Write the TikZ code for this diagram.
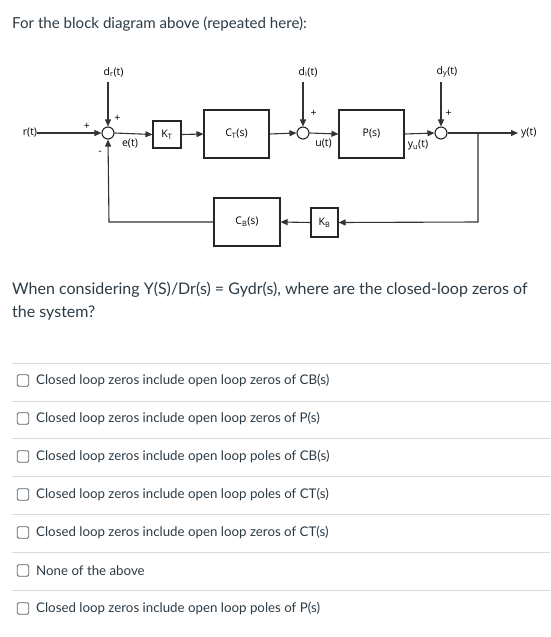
\documentclass[tikz,border=0pt]{standalone}
\usepackage{fontspec}
\setmainfont{Lato}
\newfontfamily\diagfont{Open Sans}
\usetikzlibrary{arrows.meta}
\definecolor{txt}{HTML}{2D3B45}
\definecolor{sep}{HTML}{D8DCDF}
\definecolor{boxc}{HTML}{5A6670}
\begin{document}
\begin{tikzpicture}[x=1pt,y=-1pt,
  blk/.style={draw=black!85,line width=1.1pt,inner sep=0pt,font=\diagfont\fontsize{10.5}{12}\selectfont},
  sumc/.style={draw=black!85,line width=1.1pt,circle,minimum size=12pt,inner sep=0pt},
  dlab/.style={font=\diagfont\fontsize{10.5}{12}\selectfont,inner sep=0pt},
  sig/.style={draw=black!80,line width=1.1pt},
  arr/.style={sig,-{Triangle[length=7pt,width=6pt]}},
  ttext/.style={font=\fontsize{15.1}{19}\selectfont,text=txt,inner sep=0pt,anchor=west},
  qtext/.style={font=\fontsize{16}{19}\selectfont,text=txt,inner sep=0pt,anchor=west},
  opt/.style={font=\fontsize{13.3}{16}\selectfont,text=txt,inner sep=0pt,anchor=west},
  cbox/.style={draw=boxc,line width=0.8pt,rounded corners=1.5pt,minimum size=11.5pt,inner sep=0pt},
  sepline/.style={draw=sep,line width=0.8pt}]
\useasboundingbox (0,0) rectangle (550,637);
\fill[white] (0,0) rectangle (550,637);
% title
\node[ttext] (title) at (12,24) {For the block diagram above (repeated here):};
% diagram blocks
\node[sumc] (s1) at (108,133) {};
\node[sumc] (s2) at (303,133) {};
\node[sumc] (s3) at (441,133) {};
\node[blk,minimum width=28pt,minimum height=27pt] (KT) at (167,134.5) {K\textsubscript{T}};
\node[blk,minimum width=65pt,minimum height=48pt] (CT) at (236.5,134) {C\textsubscript{T}(s)};
\node[blk,minimum width=65pt,minimum height=48pt] (P) at (371.5,134) {P(s)};
\node[blk,minimum width=66pt,minimum height=48pt] (CB) at (247,222) {C\textsubscript{B}(s)};
\node[blk,minimum width=27pt,minimum height=29pt] (KB) at (324.5,222.5) {K\textsubscript{B}};
% labels
\node[dlab] (r) at (30,133) {r(t)};
\node[dlab,anchor=west] (dr) at (103.5,72) {d\textsubscript{r}(t)};
\node[dlab,anchor=west] (di) at (298.5,72) {d\textsubscript{i}(t)};
\node[dlab,anchor=west] (dy) at (436.5,72) {d\textsubscript{y}(t)};
\node[dlab,anchor=west] (y) at (521,133) {y(t)};
\node[dlab] (e) at (130,143.5) {e(t)};
\node[dlab] (u) at (323.5,143.5) {u(t)};
\node[dlab] (yu) at (418,145) {y\textsubscript{u}(t)};
\node[dlab] (p1) at (87,126) {+};
\node[dlab] (p2) at (117.5,118) {+};
\node[dlab] (m1) at (100,153) {-};
\node[dlab] (p3) at (313.5,113.5) {+};
\node[dlab] (p4) at (448.5,113.5) {+};
% coordinates
\coordinate (drt) at (108,82);
\coordinate (dit) at (303,82);
\coordinate (dyt) at (441,82);
\coordinate (yend) at (518,133);
\coordinate (br) at (478,133);
\coordinate (brb) at (478,222);
\coordinate (lb) at (109,222);
% connectors
\draw[arr] (r.east) -- (s1.west);
\draw[arr] (drt) -- (s1.north);
\draw[arr] (s1.east) -- (KT.west);
\draw[arr] (KT.east) -- (CT.west);
\draw[arr] (CT.east) -- (s2.west);
\draw[arr] (dit) -- (s2.north);
\draw[arr] (s2.east) -- (P.west);
\draw[arr] (P.east) -- (s3.west);
\draw[arr] (dyt) -- (s3.north);
\draw[arr] (s3.east) -- (yend);
\draw[arr] (br) -- (brb) -- (KB.east);
\draw[arr] (KB.west) -- (CB.east);
\draw[arr] (CB.west) -- (lb) -- (s1.south);
% question
\node[qtext] (q1) at (12,290) {When considering Y(S)/Dr(s) = Gydr(s), where are the closed-loop zeros of};
\node[qtext] (q2) at (12,313) {the system?};
% separators
\foreach \yy in {363,401,438,476,514,552,590} \draw[sepline] (12,\yy) -- (550,\yy);
% options
\node[cbox] (c1) at (23,380.5) {}; \node[opt] (o1) at (36,380.5) {Closed loop zeros include open loop zeros of CB(s)};
\node[cbox] (c2) at (23,418.5) {}; \node[opt] (o2) at (36,418.5) {Closed loop zeros include open loop zeros of P(s)};
\node[cbox] (c3) at (23,456.5) {}; \node[opt] (o3) at (36,456.5) {Closed loop zeros include open loop poles of CB(s)};
\node[cbox] (c4) at (23,494.5) {}; \node[opt] (o4) at (36,494.5) {Closed loop zeros include open loop poles of CT(s)};
\node[cbox] (c5) at (23,532.5) {}; \node[opt] (o5) at (36,532.5) {Closed loop zeros include open loop zeros of CT(s)};
\node[cbox] (c6) at (23,570.5) {}; \node[opt] (o6) at (36,570.5) {None of the above};
\node[cbox] (c7) at (23,608.5) {}; \node[opt] (o7) at (36,608.5) {Closed loop zeros include open loop poles of P(s)};
\end{tikzpicture}
\end{document}
